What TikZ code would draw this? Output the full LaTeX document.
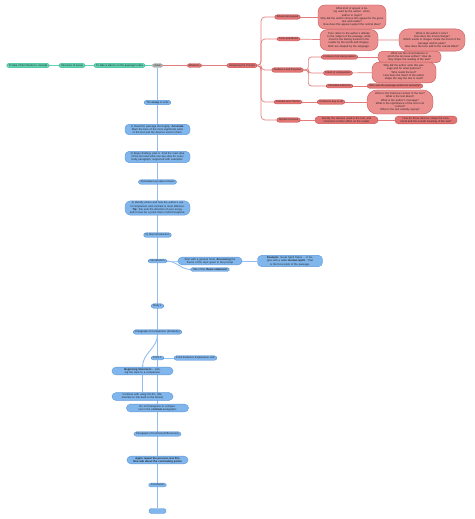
\documentclass[tikz,border=0pt]{standalone}
\usepackage{fontspec}
\setmainfont{Liberation Sans}
\usetikzlibrary{backgrounds}

\definecolor{greenfill}{HTML}{62D2B2}
\definecolor{greendraw}{HTML}{43B893}
\definecolor{grayfill}{HTML}{B4B4B4}
\definecolor{graydraw}{HTML}{9A9A9A}
\definecolor{redfill}{HTML}{E27474}
\definecolor{reddraw}{HTML}{C95656}
\definecolor{redbig}{HTML}{EA8E8E}
\definecolor{redline}{HTML}{E37C7C}
\definecolor{bluefill}{HTML}{80B6EC}
\definecolor{bluedraw}{HTML}{5E98D8}
\definecolor{blueline}{HTML}{92BDF2}

\tikzset{
  topic/.style={draw, line width=0.4pt, rounded corners=2.4pt,
    inner xsep=2pt, inner ysep=1pt, align=center,
    font=\fontsize{2.7}{3.3}\selectfont, text=black!85},
  greentopic/.style={topic, fill=greenfill, draw=greendraw},
  graytopic/.style={topic, fill=grayfill, draw=graydraw},
  redtopic/.style={topic, fill=redfill, draw=reddraw},
  redbox/.style={topic, fill=redbig, draw=reddraw, rounded corners=7pt,
    inner ysep=2.5pt},
  bluetopic/.style={topic, fill=bluefill, draw=bluedraw},
  bluebox/.style={bluetopic, rounded corners=4pt},
  greenlink/.style={draw=greenfill, line width=0.6pt},
  redlink/.style={draw=redline, line width=0.7pt},
  bluelink/.style={draw=blueline, line width=0.9pt}
}

\begin{document}
\begin{tikzpicture}[x=1pt, y=-1pt]
  \useasboundingbox (0,0) rectangle (474,519);

  % main row
  \node[greentopic] (g1) at (28,65.5) {To take it from theme to concept};
  \node[greentopic] (g2) at (72,65.5) {Structure of essay};
  \node[greentopic] (g3) at (119.5,65.5) {To take a stance on the passage's idea};
  \node[graytopic] (gray) at (157.5,65.5) {Goal};
  \node[redtopic] (red1) at (194.5,65.5) {Rhetoric};
  \node[redtopic] (red2) at (242,65.5) {Analysing the Prompt};

  % rhetoric branches
  \node[redtopic] (a1) at (287.5,17) {Rhetorical Appeal};
  \node[redtopic] (a2) at (288.5,39) {Tone and Mood};
  \node[redtopic] (a3) at (287.5,70) {Audience and Purpose};
  \node[redtopic] (a4) at (288,102) {Context and Theme};
  \node[redtopic] (a5) at (288.5,120) {Stylistic Devices};

  \node[redbox, text width=64pt] (a1x) at (352,17)
    {What kind of appeal is being used by the author: ethos,\\ pathos or logos?\\
     Why did the author choose this appeal for the given\\ text and reader?\\
     How does this appeal support the central idea?};
  \node[redbox, text width=54pt] (a2x) at (349,40)
    {Tone refers to the author's attitude to the subject of the passage,
     while mood is the feeling evoked in the reader by the words and
     imagery. Both are shaped by the language.};
  \node[redbox, text width=62pt, inner ysep=3.5pt, rounded corners=9pt] (a2y) at (432,40)
    {What is the author's tone?\\ How does the mood change?\\
     Which words or images create the mood of the\\ passage and its parts?\\
     How does the tone add to the overall effect?};

  \node[redtopic] (a3a) at (339.5,57) {Context of its interpretation};
  \node[redtopic] (a3b) at (338,73) {Intent of composition};
  \node[redtopic] (a3c) at (339.5,86) {Intended audience};
  \node[redbox, text width=59pt, rounded corners=4.5pt, inner ysep=1.2pt] (a3ax) at (409.5,57)
    {What are the circumstances in which the text was written?
     How do they shape the reading of the text?};
  \node[redbox, text width=60pt] (a3bx) at (404,72.5)
    {Why did the author write this passage and for what purpose?\\
     Who reads the text?\\
     How does the intent of the author shape the way the text is read?};
  \node[redtopic] (a3cx) at (395,86) {Who was the passage written for and why?};

  \node[redtopic] (a4a) at (331,102) {Context is key to all};
  \node[redbox, text width=62pt, rounded corners=10pt] (a4ax) at (400,102)
    {What is the historical context of the text?\\ What is the text about?\\
     What is the author's message?\\
     What is the significance of the text in its\\ context?\\
     What is the text actually saying?};

  \node[redtopic, text width=59pt, rounded corners=3.5pt] (a5a) at (346.5,120)
    {Identify the devices used in the text, and comment on their effect on the reader};
  \node[redtopic, text width=58pt, rounded corners=3.5pt] (a5ax) at (426,120)
    {How do these devices shape the tone, mood and the overall meaning of the text?};

  % essay steps
  \node[bluetopic] (b1) at (157.5,102.5) {The \textbf{essay} to write};
  \node[bluebox, text width=61pt] (b2) at (157.5,129.5)
    {1) Read the passage thoroughly. \textbf{Annotate}. Mark the tone of the
     most significant parts of the text and the devices used in them.};
  \node[bluebox, text width=61pt] (b3) at (157.5,157)
    {2) Begin drafting, plan it. Find the main idea of the text and write one
     key idea for every body paragraph, supported with examples.};
  \node[bluetopic] (b4) at (157.5,182) {3) Restate key idea in thesis};
  \node[bluebox, text width=61pt, rounded corners=6pt] (b5) at (157.5,208)
    {4) Identify where and how the author's use of comparison and contrast is
     most effective. \textbf{Tip:} this sets the direction of your essay, and it
     must be a point that is held throughout.};
  \node[bluetopic] (b6) at (157.5,235) {5) Start introduction};

  \node[bluetopic] (intro) at (157.5,261) {Introduction};
  \node[bluebox, text width=60pt] (ic1) at (210,261)
    {Start with a general hook, \textbf{discussing} the theme of the topic given in the prompt};
  \node[bluetopic] (ic2) at (210,269.5) {Talk of the \textbf{thesis statement}};
  \node[bluebox, text width=61pt] (ex) at (290,261)
    {\textbf{Example:} Great Spirit Takes \ldots{} It begins with a wider
     \textbf{Human Spirit}. That is the focal point of the passage.};

  \node[bluetopic] (body) at (157.5,306) {Body 1};
  \node[bluetopic] (para1) at (157.5,332) {Paragraph of Comparison (Similarity)};
  \node[bluetopic] (point1) at (157.5,358) {Point 1};
  \node[bluetopic] (peel) at (195.5,358) {Point Evidence Explanation Link};
  \node[bluebox, text width=57pt] (begin) at (142.5,371)
    {\textbf{Beginning Statement} -- Linking the topic to a comparison};
  \node[bluebox, text width=57pt] (cont) at (142.5,396.5)
    {Continue with using P.E.E.L (Remember to link back to the thesis)};
  \node[bluebox, text width=58pt] (dont) at (157.5,408)
    {Do not transgress to comparison in the \textbf{contrast} paragraphs};
  \node[bluetopic] (para2) at (157.5,434) {Paragraph of Contrast (Differences)};
  \node[bluebox, text width=57pt] (again) at (157.5,460)
    {\textbf{Again repeat the process, but this time talk about the contrasting points}};
  \node[bluetopic] (concl) at (157.5,485) {Conclusion};
  \node[bluetopic, minimum width=17pt, minimum height=5pt] (last) at (157.5,511) {};

  % connectors
  \begin{scope}[on background layer]
    \draw[greenlink] (g1) -- (g2) -- (g3) -- (gray);
    \draw[redlink] (gray) -- (red1) -- (red2);
    \foreach \n in {a1,a2,a3,a4,a5}
      \draw[redlink, rounded corners=4pt] (red2.east) -- ++(4,0) |- (\n.west);
    \draw[redlink] (a1) -- (a1x);
    \draw[redlink] (a2) -- (a2x) -- (a2y);
    \foreach \n in {a3a,a3b,a3c}
      \draw[redlink, rounded corners=3pt] (a3.east) -- ++(5,0) |- (\n.west);
    \draw[redlink] (a3a) -- (a3ax);
    \draw[redlink] (a3b) -- (a3bx);
    \draw[redlink] (a3c) -- (a3cx);
    \draw[redlink] (a4) -- (a4a) -- (a4ax);
    \draw[redlink] (a5) -- (a5a) -- (a5ax);

    \draw[bluelink] (gray) -- (b1) -- (b2) -- (b3) -- (b4) -- (b5) -- (b6)
      -- (intro) -- (body) -- (para1) -- (point1) -- (dont) -- (para2)
      -- (again) -- (concl) -- (last);
    \draw[bluelink] (intro.east) to[out=0,in=180] (ic1.west);
    \draw[bluelink] (intro.east) to[out=0,in=180] (ic2.west);
    \draw[bluelink] (ic1) -- (ex);
    \draw[bluelink] (point1) -- (peel);
    \draw[bluelink] (para1.south) to[out=-90,in=90] (begin.north);
    \draw[bluelink] (begin) -- (cont);
  \end{scope}
\end{tikzpicture}
\end{document}
